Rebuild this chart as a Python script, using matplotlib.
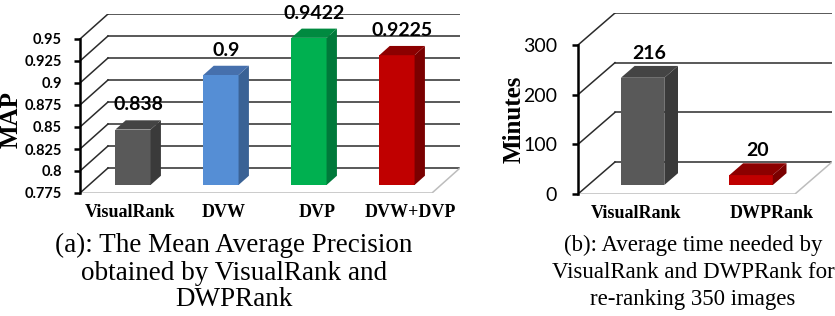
import numpy as np
import matplotlib
matplotlib.use("Agg")
import matplotlib.pyplot as plt
from matplotlib.patches import Polygon

# datos de las dos graficas
map_cats = ["VisualRank", "DVW", "DVP", "DVW+DVP"]
map_vals = [0.838, 0.9, 0.9422, 0.9225]
map_labels = ["0.838", "0.9", "0.9422", "0.9225"]
map_ticks = [0.775, 0.8, 0.825, 0.85, 0.875, 0.9, 0.925, 0.95]
map_ticklabels = ["0.775", "0.8", "0.825", "0.85", "0.875", "0.9", "0.925", "0.95"]

time_cats = ["VisualRank", "DWPRank"]
time_vals = [216, 20]
time_labels = ["216", "20"]
time_ticks = [0, 100, 200, 300]

# colores (frente, lado, arriba)
gris = ("#595959", "#3a3a3a", "#444444")
azul = ("#558ed5", "#3a6295", "#4670ad")
verde = ("#00b050", "#00793a", "#008a40")
rojo = ("#c00000", "#7a0000", "#8c0000")

W, H = 835, 316
fig = plt.figure(figsize=(W / 100, H / 100), dpi=100)

SANS = ["Lato", "DejaVu Sans"]
SERIF = ["Liberation Serif", "DejaVu Serif"]


def grafica(x0, x1, ybot, ytop, dx, dy, cats, vals, labels, colores,
            ymin, ymax, ticks, ticklabels, tick_bold, tick_size, tick_pad,
            ylabel, ylab_x, f0=0.3, bd=0.37, bw=0.4, spread=0, val_off=6):
    n = len(cats)
    # la caja de ejes cubre el plano frontal mas la profundidad
    ax = fig.add_axes([x0 / W, (H - ybot) / H, (x1 + dx - x0) / W, (ybot - ytop + dy) / H])
    px_x = (x1 - x0) / n
    px_y = (ybot - ytop) / (ymax - ymin)
    ddx = dx / px_x
    ddy = dy / px_y
    ax.set_xlim(0, n + ddx)
    ax.set_ylim(ymin, ymax + ddy)

    # pared del fondo y pared lateral
    for t in ticks:
        ax.plot([ddx, n + ddx], [t + ddy, t + ddy], color="#2b2b2b", lw=1.1, zorder=1)
        ax.plot([0, ddx], [t, t + ddy], color="#2b2b2b", lw=1.1, zorder=1)
    # suelo
    ax.plot([0, n, n + ddx], [ymin, ymin, ymin + ddy], color="#bdbdbd", lw=1.1, zorder=1)

    for i in range(n):
        xl = i + 0.5 - bw / 2 + f0 * ddx
        yb = ymin + f0 * ddy
        yt = vals[i] + f0 * ddy
        ax.bar(xl, vals[i] - ymin, bottom=yb, width=bw, align="edge",
               color=colores[i][0], zorder=3)
        sx, sy = bd * ddx, bd * ddy
        xr = xl + bw
        ax.add_patch(Polygon([(xr, yb), (xr + sx, yb + sy), (xr + sx, yt + sy), (xr, yt)],
                             closed=True, color=colores[i][1], zorder=3, lw=0))
        ax.add_patch(Polygon([(xl, yt), (xr, yt), (xr + sx, yt + sy), (xl + sx, yt + sy)],
                             closed=True, color=colores[i][2], zorder=3, lw=0))
        ax.annotate(labels[i], xy=(xl + bw / 2 + sx / 2, yt + sy), xytext=(0, val_off),
                    textcoords="offset points", ha="center", va="bottom",
                    fontsize=14, fontweight="bold", family=SANS)
        ax.annotate(cats[i], xy=(xl + bw / 2 + sx / 2, ymin),
                    xytext=((i - (n - 1) / 2) * spread, -8),
                    textcoords="offset points", ha="center", va="top",
                    fontsize=13, fontweight="bold", family=SERIF)

    for s in ["top", "right", "bottom"]:
        ax.spines[s].set_visible(False)
    ax.spines["left"].set_bounds(ymin, ymax)
    ax.spines["left"].set_linewidth(1.8)
    ax.set_xticks([])
    ax.set_yticks(ticks)
    ax.set_yticklabels(ticklabels, fontsize=tick_size, family=SANS,
                       fontweight="bold" if tick_bold else "normal")
    ax.tick_params(axis="y", direction="out", length=4, width=1.8, pad=tick_pad)
    ax.set_ylabel(ylabel, fontsize=18, fontweight="bold", family=SERIF)
    ax.yaxis.set_label_coords((ylab_x - x0) / (x1 + dx - x0), (ybot - 119) / (ybot - ytop + dy))
    ax.patch.set_alpha(0)
    return ax


grafica(80, 432, 193, 39, 28, 25, map_cats, map_vals, map_labels,
        [gris, azul, verde, rojo], 0.775, 0.95, map_ticks, map_ticklabels,
        True, 10.5, 9, "MAP", 23, f0=0.32, spread=3.7, val_off=5)

grafica(578, 795, 194, 45, 37, 32, time_cats, time_vals, time_labels,
        [gris, rojo], 0, 300, time_ticks, [str(t) for t in time_ticks],
        False, 14, 11, "Minutes", 526, f0=0.28, spread=19, val_off=3)

# leyendas de abajo
cap_a = ["(a): The Mean Average Precision", "obtained by VisualRank and", "DWPRank"]
cap_b = ["(b): Average time needed by", "VisualRank and DWPRank for", "re-ranking 350 images"]
for k, y in enumerate([245, 273, 300]):
    fig.text(234 / W, 1 - y / H, cap_a[k], ha="center", va="center", fontsize=19.5, family=SERIF)
    fig.text(693 / W, 1 - y / H, cap_b[k], ha="center", va="center", fontsize=16.5, family=SERIF)

fig.savefig("out.png", dpi=100)
